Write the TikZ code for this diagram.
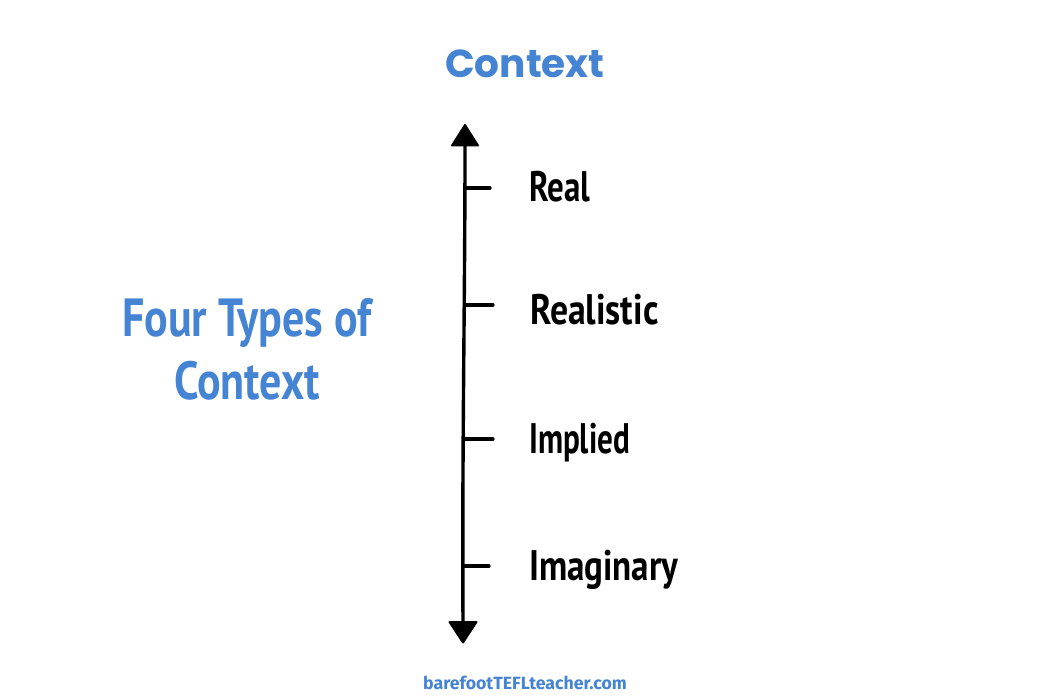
\documentclass[tikz,border=0pt]{standalone}
\usepackage{fontspec}
\usepackage{graphicx}
\setmainfont{Fira Sans}
\newfontfamily\titlef{Poppins}
\newfontfamily\handf{PT Sans}
\definecolor{ctxblue}{HTML}{4583D3}
\newcommand{\tallt}[2][1]{\scalebox{#1}[1.22]{#2}}
\tikzset{
  tick/.style={line width=3.2pt,line cap=round},
  axisline/.style={line width=3.4pt},
  headfill/.style={fill=black,draw=black,line width=2pt,line join=round},
  lab/.style={anchor=west,inner sep=0pt,font=\handf\fontsize{35}{38}\selectfont\bfseries,text=black},
  bluelab/.style={inner sep=0pt,font=\handf\fontsize{44}{48}\selectfont\bfseries,text=ctxblue}
}
\begin{document}
\begin{tikzpicture}[x=1pt,y=-1pt]
\useasboundingbox (0,0) rectangle (1050,700);
\fill[white] (0,0) rectangle (1050,700);
\node[inner sep=0pt,font=\titlef\bfseries\fontsize{39}{44}\selectfont,text=ctxblue] (title) at (525,64) {Context};
\coordinate (top) at (465,146);
\coordinate (bot) at (463,622);
\draw[axisline] (top) .. controls (465,300) and (462,450) .. (bot);
\draw[headfill] (465,125) -- (478,145.5) -- (452,145.5) -- cycle;
\draw[headfill] (463,642.5) -- (449.5,622) -- (476.5,622) -- cycle;
\coordinate (t1) at (465,188); \coordinate (t1e) at (490,188);
\coordinate (t2) at (465,305); \coordinate (t2e) at (493,305);
\coordinate (t3) at (464,439); \coordinate (t3e) at (493,439);
\coordinate (t4) at (464,566); \coordinate (t4e) at (489,566);
\draw[tick] (t1)--(t1e); \draw[tick] (t2)--(t2e); \draw[tick] (t3)--(t3e); \draw[tick] (t4)--(t4e);
\node[lab] (real) at (529,187) {\tallt[0.94]{Real}};
\node[lab] (realistic) at (530,310) {\tallt[1.02]{Realistic}};
\node[lab] (implied) at (529,443) {\tallt[0.89]{Implied}};
\node[lab] (imag) at (529,570) {\tallt{Imaginary}};
\node[bluelab] (four) at (247,323) {\tallt{Four Types of}};
\node[bluelab] (ctx) at (247,381) {\tallt{Context}};
\node[inner sep=0pt,font=\fontsize{17.7}{20}\selectfont\bfseries,text=ctxblue] (url) at (525,683) {barefootTEFLteacher.com};
\end{tikzpicture}
\end{document}
